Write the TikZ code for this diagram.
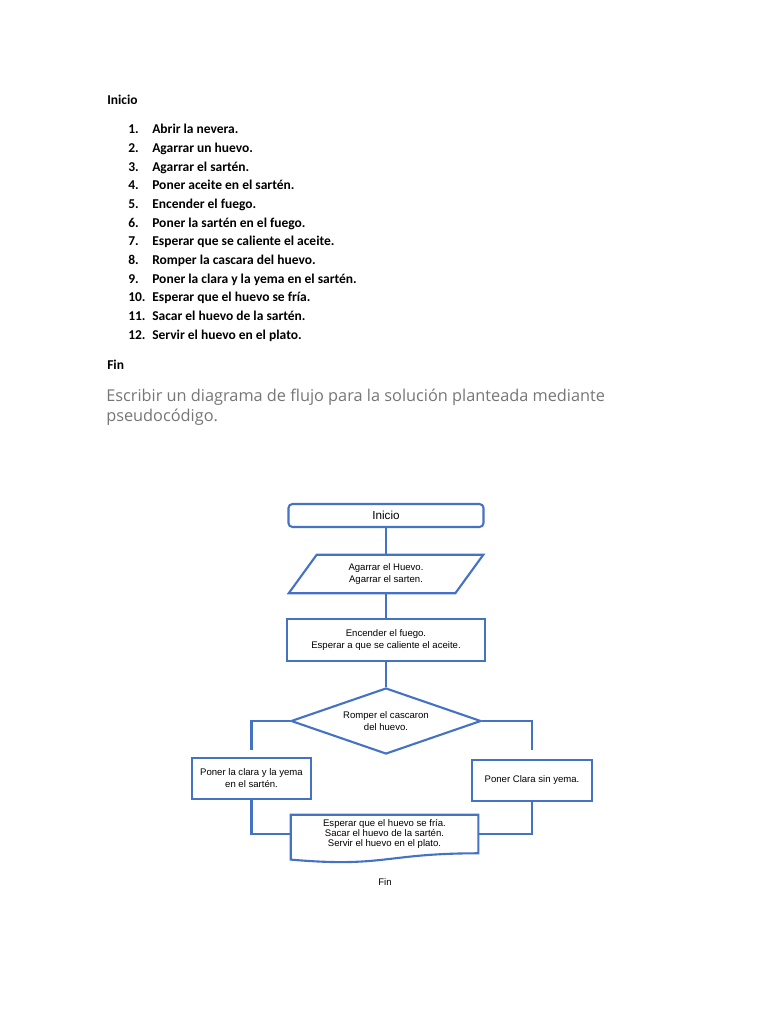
\documentclass[tikz,border=0pt]{standalone}
\usepackage{fontspec}
\setmainfont{Carlito}
\newfontfamily\flujo{Liberation Sans}
\newfontfamily\parrafo{Open Sans}
\usetikzlibrary{shapes.geometric}
\definecolor{azulflujo}{RGB}{68,114,196}
\definecolor{grisparrafo}{RGB}{118,118,118}
\tikzset{
	linea/.style={draw=azulflujo, line width=1.5pt},
	lista/.style={anchor=base west, inner sep=0pt, font=\bfseries\fontsize{9.6}{11}\selectfont},
	enunciado/.style={anchor=base west, inner sep=0pt, text=grisparrafo, font=\parrafo\fontsize{11.6}{14}\selectfont},
	textoflujo/.style={align=center, inner sep=1pt, font=\flujo\fontsize{6.8}{8.5}\selectfont},
	caja/.style={linea, rectangle, textoflujo}
}

\begin{document}
\begin{tikzpicture}[x=0.025cm, y=-0.025cm]
		\useasboundingbox (0,0) rectangle (768,1024);
		
		% pseudocodigo
		\node[lista] (titinicio) at (107,105) {Inicio};
		\foreach \paso [count=\i] in {Abrir la nevera., Agarrar un huevo., Agarrar el sartén., Poner aceite en el sartén., Encender el fuego., Poner la sartén en el fuego., Esperar que se caliente el aceite., Romper la cascara del huevo., Poner la clara y la yema en el sartén., Esperar que el huevo se fría., Sacar el huevo de la sartén., Servir el huevo en el plato.}{
			\node[lista] (num\i) at (128,{134+(\i-1)*18.65}) {\i.};
			\node[lista] (paso\i) at (152,{134+(\i-1)*18.65}) {\paso};
		}
		\node[lista] (titfin) at (107,369) {Fin};
		
		\node[enunciado] (enunciado1) at (106,401) {Escribir un diagrama de flujo para la solución planteada mediante};
		\node[enunciado] (enunciado2) at (106,421.5) {pseudocódigo.};
		
		% diagrama
		\node[linea, rounded corners=0.1cm, minimum width=4.875cm, minimum height=0.575cm, inner sep=0pt, font=\flujo\fontsize{8.3}{9}\selectfont] (inicio) at (386,515.5) {Inicio};
		\node[textoflujo, minimum width=4.85cm, minimum height=0.95cm] (entrada) at (386,574) {Agarrar el Huevo.\\Agarrar el sarten.};
		\draw[linea] ([xshift=0.7cm]entrada.north west) -- (entrada.north east) -- ([xshift=-0.7cm]entrada.south east) -- (entrada.south west) -- cycle;
		\node[caja, minimum width=4.95cm, minimum height=1.05cm] (fuego) at (386,640) {Encender el fuego.\\Esperar a que se caliente el aceite.};
		\node[linea, diamond, shape aspect=2.88, minimum width=4.75cm, minimum height=1.65cm, textoflujo, inner sep=0pt] (romper) at (386,721) {Romper el cascaron\\del huevo.};
		\node[caja, minimum width=2.975cm, minimum height=1.025cm] (clara) at (251.5,778.5) {Poner la clara y la yema\\en el sartén.};
		\node[caja, minimum width=3cm, minimum height=1.025cm] (sinyema) at (532,780.5) {Poner Clara sin yema.};
		\node[textoflujo, font=\flujo\fontsize{6.8}{7}\selectfont, minimum width=4.675cm, minimum height=0.95cm, inner sep=0pt] (salida) at (384.5,834) {Esperar que el huevo se fría.\\Sacar el huevo de la sartén.\\Servir el huevo en el plato.};
		\draw[linea] ([yshift=-0.1575cm]salida.south west) -- (salida.north west) -- (salida.north east) -- (salida.south east) .. controls (salida.south) and ([yshift=-0.3625cm]salida.south) .. ([yshift=-0.1575cm]salida.south west) -- cycle;
		\node[textoflujo] (finflujo) at (385,882) {Fin};
		
		\draw[linea] (inicio) -- (entrada.north);
		\draw[linea] (entrada.south) -- (fuego);
		\draw[linea] (fuego) -- (romper);
		\draw[linea] (romper.west) -| ([yshift=0.175cm]clara.north);
		\draw[linea] (romper.east) -| ([yshift=0.225cm]sinyema.north);
		\draw[linea] (clara.south) |- (salida.west);
		\draw[linea] (sinyema.south) |- (salida.east);
	\end{tikzpicture}
\end{document}
